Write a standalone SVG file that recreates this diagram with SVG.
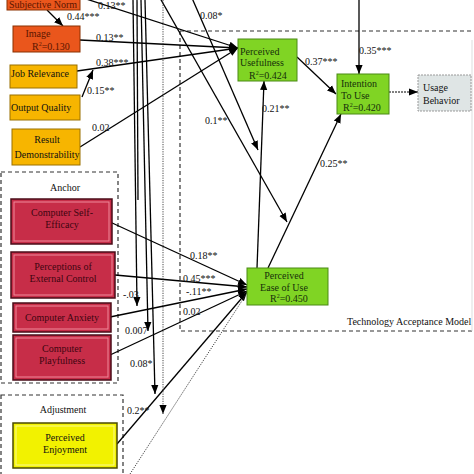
<svg xmlns="http://www.w3.org/2000/svg" width="474" height="474" viewBox="0 0 474 474">
<defs>
<marker id="ah" viewBox="0 0 10 10" refX="10" refY="5" markerWidth="9" markerHeight="9" markerUnits="userSpaceOnUse" orient="auto"><path d="M0,1 L10,5 L0,9 z" fill="#000"/></marker>
<style>
text{font-family:"Liberation Serif","Times New Roman",serif;font-size:10px;fill:#111}
.c{text-anchor:middle}
.ln{stroke:#000;stroke-width:1.3;fill:none}
.dot{stroke:#333;stroke-width:0.9;fill:none;stroke-dasharray:1.2,1.2}
.grp{fill:none;stroke:#333;stroke-width:1.2;stroke-dasharray:4,3}
.or{fill:#ea561c;stroke:#8a3000;stroke-width:1}
.ort{fill:#5a1500}
.yo{fill:#f7b500;stroke:#9a7000;stroke-width:1}
.rd{fill:#c72d48;stroke:#4a0c18;stroke-width:1.5}
.rdi{fill:none;stroke:#f08a9a;stroke-width:1}
.rdt{fill:#3d0510}
.gr{fill:#80d424;stroke:#4a8a14;stroke-width:1}
.grt{fill:#16300a}
.ye{fill:#f2f200;stroke:#4a4a00;stroke-width:1.5}
.yei{fill:none;stroke:#fafa90;stroke-width:1}
.gy{fill:#dfe5e5;stroke:#999;stroke-width:1;stroke-dasharray:2,1}
</style>
</defs>
<rect width="474" height="474" fill="#fff"/>

<g id="groups">
<path class="grp" d="M180,31 H474 M180,31 V331 H474"/>
<line x1="472" y1="40" x2="472" y2="331" stroke="#ddd" stroke-width="1"/>
<rect class="grp" x="1" y="172" width="117" height="211"/>
<rect class="grp" x="1" y="395" width="122" height="90"/>
<text x="347" y="325">Technology Acceptance Model</text>
<text class="c" x="65" y="191">Anchor</text>
<text class="c" x="63" y="413">Adjustment</text>
</g>

<g id="connectors">
<line class="ln" x1="47" y1="10" x2="63" y2="26" marker-end="url(#ah)"/>
<line class="ln" x1="80" y1="-3" x2="238" y2="48" marker-end="url(#ah)"/>
<line class="ln" x1="80" y1="40" x2="238" y2="48" marker-end="url(#ah)"/>
<line class="ln" x1="77" y1="71" x2="238" y2="48" marker-end="url(#ah)"/>
<line class="ln" x1="82" y1="97" x2="93" y2="70" marker-end="url(#ah)"/>
<line class="ln" x1="80" y1="147" x2="238" y2="48" marker-end="url(#ah)"/>
<line class="ln" x1="160" y1="-2" x2="287" y2="222" marker-end="url(#ah)"/>
<line class="ln" x1="192" y1="-2" x2="258" y2="150" marker-end="url(#ah)"/>
<line class="ln" x1="257" y1="268" x2="264" y2="81" marker-end="url(#ah)"/>
<line class="ln" x1="268" y1="268" x2="341" y2="114" marker-end="url(#ah)"/>
<line class="ln" x1="297" y1="57" x2="336" y2="94" marker-end="url(#ah)"/>
<line class="ln" x1="359" y1="0" x2="359" y2="74" marker-end="url(#ah)"/>
<line x1="389" y1="92" x2="418" y2="92" stroke="#000" stroke-width="1" stroke-dasharray="2,1" marker-end="url(#ah)"/>
<line class="ln" x1="110" y1="222" x2="247" y2="285" marker-end="url(#ah)"/>
<line class="ln" x1="115" y1="275" x2="247" y2="287" marker-end="url(#ah)"/>
<line class="ln" x1="110" y1="317" x2="247" y2="289" marker-end="url(#ah)"/>
<line class="ln" x1="110" y1="355" x2="247" y2="291" marker-end="url(#ah)"/>
<line class="ln" x1="117" y1="444" x2="247" y2="292" marker-end="url(#ah)"/>
<line class="dot" x1="130" y1="474" x2="247" y2="293"/>
<line class="ln" x1="133" y1="0" x2="137" y2="306" marker-end="url(#ah)"/>
<line class="ln" x1="137" y1="0" x2="138" y2="200"/>
<line class="ln" x1="141" y1="0" x2="148" y2="331" marker-end="url(#ah)"/>
<line class="ln" x1="145" y1="0" x2="155" y2="394" marker-end="url(#ah)"/>
<line class="dot" x1="163" y1="0" x2="163" y2="414" marker-end="url(#ah)"/>
<text x="98" y="9">0.13**</text>
<text x="67" y="20">0.44***</text>
<text x="96" y="41">0.13**</text>
<text x="96" y="66">0.38***</text>
<text x="87" y="94">0.15**</text>
<text x="92" y="131">0.02</text>
<text x="200" y="19">0.08*</text>
<text x="205" y="124">0.1**</text>
<text x="262" y="112">0.21**</text>
<text x="305" y="65">0.37***</text>
<text x="359" y="54">0.35***</text>
<text x="320" y="167">0.25**</text>
<text x="190" y="259">0.18**</text>
<text x="183" y="282">0.45***</text>
<text x="186" y="295">-.11**</text>
<text x="183" y="315">0.02</text>
<text x="123" y="298">-.03</text>
<text x="125" y="334">0.007</text>
<text x="130" y="367">0.08*</text>
<text x="127" y="414">0.2**</text>
</g>

<g id="subjective-norm">
<rect class="or" x="7" y="-20" width="73" height="30"/>
<text class="c ort" x="43" y="8">Subjective Norm</text>
</g>
<g id="image">
<rect class="or" x="13" y="26" width="67" height="26"/>
<text class="c ort" x="38" y="37">Image</text>
<text class="ort" x="32" y="50">R<tspan font-size="6" dy="-4">2</tspan><tspan dy="4">=0.130</tspan></text>
</g>
<g id="job-relevance">
<rect class="yo" x="10" y="65" width="67" height="23"/>
<text x="11" y="77">Job Relevance</text>
</g>
<g id="output-quality">
<rect class="yo" x="10" y="95" width="70" height="25"/>
<text x="11" y="111">Output Quality</text>
</g>
<g id="result-demonstrability">
<rect class="yo" x="12" y="129" width="68" height="36"/>
<text class="c" x="47" y="143">Result</text>
<text class="c" x="47" y="158">Demonstrability</text>
</g>

<g id="computer-self-efficacy">
<rect class="rd" x="11" y="199" width="101" height="45"/>
<rect class="rdi" x="14" y="202" width="95" height="39"/>
<text class="c rdt" x="62" y="216">Computer Self-</text>
<text class="c rdt" x="62" y="228">Efficacy</text>
</g>
<g id="perceptions-external-control">
<rect class="rd" x="11" y="252" width="104" height="46"/>
<rect class="rdi" x="14" y="255" width="98" height="40"/>
<text class="c rdt" x="63" y="270">Perceptions of</text>
<text class="c rdt" x="63" y="282">External Control</text>
</g>
<g id="computer-anxiety">
<rect class="rd" x="13" y="303" width="98" height="29"/>
<rect class="rdi" x="16" y="306" width="92" height="23"/>
<text class="c rdt" x="62" y="321">Computer Anxiety</text>
</g>
<g id="computer-playfulness">
<rect class="rd" x="13" y="335" width="98" height="45"/>
<rect class="rdi" x="16" y="338" width="92" height="39"/>
<text class="c rdt" x="62" y="352">Computer</text>
<text class="c rdt" x="62" y="364">Playfulness</text>
</g>
<g id="perceived-enjoyment">
<rect class="ye" x="13" y="423" width="104" height="45"/>
<rect class="yei" x="16" y="426" width="98" height="39"/>
<text class="c" x="65" y="441">Perceived</text>
<text class="c" x="65" y="453">Enjoyment</text>
</g>

<g id="perceived-usefulness">
<rect class="gr" x="238" y="39" width="59" height="42"/>
<text class="grt" x="240" y="55">Perceived</text>
<text class="grt" x="240" y="66">Usefulness</text>
<text class="grt" x="249" y="79">R<tspan font-size="6" dy="-4">2</tspan><tspan dy="4">=0.424</tspan></text>
</g>
<g id="intention-to-use">
<rect class="gr" x="337" y="74" width="52" height="40"/>
<text class="grt" x="341" y="87">Intention</text>
<text class="grt" x="341" y="99">To Use</text>
<text class="grt" x="343" y="111">R<tspan font-size="6" dy="-4">2</tspan><tspan dy="4">=0.420</tspan></text>
</g>
<g id="usage-behavior">
<rect class="gy" x="418" y="75" width="53" height="36"/>
<text x="423" y="91">Usage</text>
<text x="423" y="104">Behavior</text>
</g>
<g id="perceived-ease-of-use">
<rect class="gr" x="247" y="268" width="81" height="37"/>
<text class="c grt" x="284" y="279">Perceived</text>
<text class="c grt" x="284" y="291">Ease of Use</text>
<text class="grt" x="270" y="302">R<tspan font-size="6" dy="-4">2</tspan><tspan dy="4">=0.450</tspan></text>
</g>
</svg>
